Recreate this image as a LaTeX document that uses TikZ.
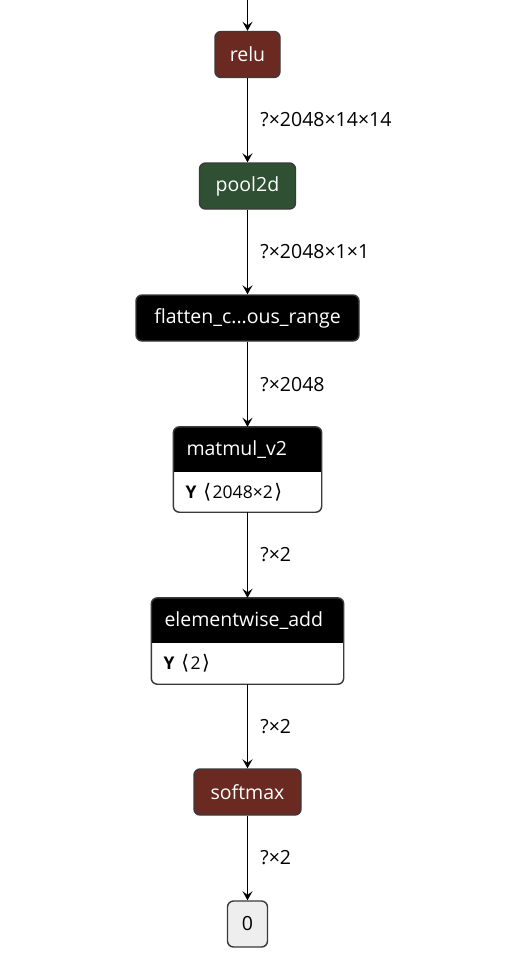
\documentclass[tikz,border=0pt]{standalone}
\usepackage{fontspec}
\setmainfont{Open Sans}
\newfontfamily\symfont{DejaVu Sans}
\usetikzlibrary{arrows.meta,calc}
\definecolor{edgegray}{HTML}{3A3A3A}
\definecolor{reluc}{HTML}{6B2A21}
\definecolor{poolc}{HTML}{2F5033}
\definecolor{outc}{HTML}{EEEEEE}
\tikzset{
  opbox/.style={draw=edgegray, line width=1.4pt, rounded corners=6pt, text=white,
    font=\fontsize{19.5}{22}\selectfont, minimum height=46pt, inner xsep=12pt, inner ysep=0pt},
  shell/.style={inner sep=0pt},
  conn/.style={line width=1.9pt, -{Stealth[length=9pt,width=10pt,inset=3.5pt]}},
  elabel/.style={font=\fontsize{19.5}{22}\selectfont, anchor=west, inner sep=0pt, xshift=12pt},
  htext/.style={text=white, font=\fontsize{19.5}{22}\selectfont, anchor=west, inner sep=0pt},
  btext/.style={font=\fontsize{17.5}{20}\selectfont, anchor=west, inner sep=0pt}
}
\newcommand{\Ang}[1]{\hspace{7pt}{\symfont\fontsize{20}{20}\selectfont\char"27E8}\hspace{1.5pt}#1\hspace{1.5pt}{\symfont\fontsize{20}{20}\selectfont\char"27E9}}
\begin{document}
\begin{tikzpicture}[x=1pt,y=-1pt]
\useasboundingbox (0,0) rectangle (512,954);
\coordinate (top) at (247.5,0);
\node[opbox, fill=reluc, minimum width=65pt] (relu) at (247.5,54.5) {relu};
\node[opbox, fill=poolc, minimum width=96pt] (pool) at (247.5,186) {pool2d};
\node[opbox, fill=black, minimum width=223pt] (flat) at (247.5,318) {flatten\_c...ous\_range};
% matmul_v2
\node[shell, minimum width=148pt, minimum height=85pt] (mm) at (247.5,469.5) {};
\begin{scope}
\clip[rounded corners=6pt] (mm.north west) rectangle (mm.south east);
\fill[white] (mm.north west) rectangle (mm.south east);
\fill[black] (mm.north west) rectangle ($(mm.north east)+(0,45)$);
\end{scope}
\draw[edgegray, line width=1.4pt, rounded corners=6pt] (mm.north west) rectangle (mm.south east);
\node[htext] at ($(mm.north west)+(13,22.5)$) {matmul\_v2};
\node[btext] at ($(mm.north west)+(12,65)$) {\textbf{Y}\Ang{2048×2}};
% elementwise_add
\node[shell, minimum width=192pt, minimum height=86pt] (ea) at (247.5,641) {};
\begin{scope}
\clip[rounded corners=6pt] (ea.north west) rectangle (ea.south east);
\fill[white] (ea.north west) rectangle (ea.south east);
\fill[black] (ea.north west) rectangle ($(ea.north east)+(0,45)$);
\end{scope}
\draw[edgegray, line width=1.4pt, rounded corners=6pt] (ea.north west) rectangle (ea.south east);
\node[htext] at ($(ea.north west)+(13,22.5)$) {elementwise\_add};
\node[btext] at ($(ea.north west)+(12,65.5)$) {\textbf{Y}\Ang{2}};
\node[opbox, fill=reluc, minimum width=107pt] (soft) at (247.5,792) {softmax};
\node[opbox, fill=outc, text=black, minimum width=40pt, inner xsep=0pt] (out) at (247.5,924) {0};
% connectors
\draw[conn] (top) -- (relu.north);
\draw[conn] (relu.south) -- node[elabel, pos=0.49] {?×2048×14×14} (pool.north);
\draw[conn] (pool.south) -- node[elabel] {?×2048×1×1} (flat.north);
\draw[conn] (flat.south) -- node[elabel] {?×2048} (mm.north);
\draw[conn] (mm.south) -- node[elabel] {?×2} (ea.north);
\draw[conn] (ea.south) -- node[elabel] {?×2} (soft.north);
\draw[conn] (soft.south) -- node[elabel] {?×2} (out.north);
\end{tikzpicture}
\end{document}
